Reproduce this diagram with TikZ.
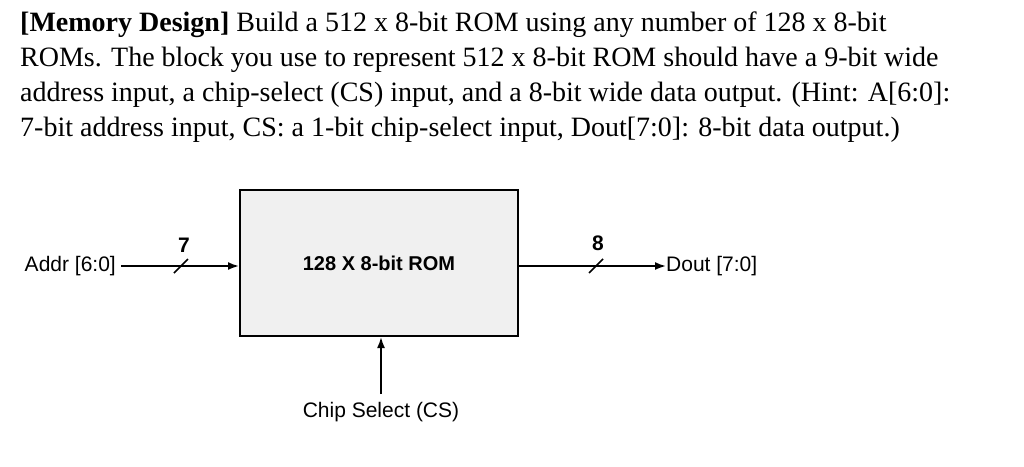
\documentclass[tikz,border=0pt]{standalone}
\usepackage{fontspec}
\setmainfont{Liberation Serif}
\newfontfamily\diagfont{Liberation Sans}
\usetikzlibrary{positioning,arrows.meta}

\begin{document}
\begin{tikzpicture}[
        x=1pt, y=-1pt,
        >={Latex[length=11pt,width=8pt]},
        txt/.style={anchor=base west, inner sep=0pt, font=\fontsize{28}{34}\selectfont},
        lbl/.style={inner sep=0pt, font=\diagfont\fontsize{21}{24}\selectfont},
        rom/.style={draw, line width=2pt, fill=gray!12, minimum width=278pt, minimum height=146pt, inner sep=0pt},
        bus/.style={->, line width=1.8pt},
        slash/.style={line width=1.5pt}
    ]
        \useasboundingbox (0,0) rectangle (1024,466);

        % text
        \node[txt] (l1) at (20,31) {\textbf{[Memory Design]} Build a 512 x 8-bit ROM using any number of 128 x 8-bit};
        \node[txt] (l2) at (20,66) {ROMs. The block you use to represent 512 x 8-bit ROM should have a 9-bit wide};
        \node[txt] (l3) at (20,101) {address input, a chip-select (CS) input, and a 8-bit wide data output. (Hint: A[6:0]:};
        \node[txt] (l4) at (20,136) {7-bit address input, CS: a 1-bit chip-select input, Dout[7:0]: 8-bit data output.)};

        % diagram
        \node[rom] (rom) at (379,263) {\diagfont\fontsize{20}{24}\selectfont\textbf{128 X 8-bit ROM}};
        \node[lbl, anchor=east] (addr) at (116,266) {Addr [6:0]};
        \node[lbl, anchor=west] (dout) at (666,266) {Dout [7:0]};
        \node[lbl] (cs) at (381,412) {Chip Select (CS)};

        \draw[bus] (addr.east) ++(5,0) coordinate (a0) -- (a0 -| rom.west);
        \draw[bus] (rom.east |- dout) -- (dout.west);
        \draw[bus] (cs.north) ++(0,-8) coordinate (c0) -- (c0 |- rom.south);

        % bus widths
        \draw[slash] (174,273) -- (188,259);
        \node[lbl] (w7) at (184,245) {\textbf{7}};
        \draw[slash] (589,273) -- (603,259);
        \node[lbl] (w8) at (598,243) {\textbf{8}};
    \end{tikzpicture}
\end{document}
